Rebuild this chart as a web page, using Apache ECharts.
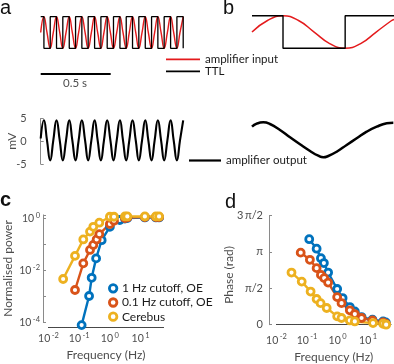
<!DOCTYPE html>
<html><head><meta charset="utf-8">
<script src="https://cdn.jsdelivr.net/npm/echarts@6/dist/echarts.min.js"></script>
<style>html,body{margin:0;padding:0;background:#fff}#c{width:394px;height:364px}</style>
</head><body><div id="c"></div>
<script>
// ---------- data ----------
// panel a: quarter-period key points (ms) of the ~11 Hz test sine
const aTimes = [0,23,45,68,90,113,136,158,181,204,226,249,271,294,317,339,362,385,407,430,452,475,498,520,543,566,588,611,633,656,679,701,724,747,769,792,814,837,860,882,905,928,950,973,995,1018];
const aInput = [0,1,0,-1,0,1,0,-1,0,1,0,-1,0,1,0,-1,0,1,0,-1,0,1,0,-1,0,1,0,-1,0,1,0,-1,0,1,0,-1,0,1,0,-1,0,1,0,-1,0,1];
const aOutput = [0.6,4.6,0.2,-4.2,0.2,4.6,0.2,-4.2,0.2,4.6,0.2,-4.2,0.2,4.6,0.2,-4.2,0.2,4.6,0.2,-4.2,0.2,4.6,0.2,-4.2,0.2,4.6,0.2,-4.2,0.2,4.6,0.2,-4.2,0.2,4.6,0.2,-4.2,0.2,4.6,0.2,-4.2,0.2,4.6,0.2,-4.2,0.2,4.6];
const aTTLTimes = [0,23,68,113,158,204,249,294,339,385,430,475,520,566,611,656,701,747,792,837,882,928,973,1018];
const aTTLLevels = [1,-1,1,-1,1,-1,1,-1,1,-1,1,-1,1,-1,1,-1,1,-1,1,-1,1,-1,1,-1];
const scaleBarTimes = [0,500];
// panel b: one cycle, zoomed (ms)
const bTimes = [0,11.3,22.6,33.9,45.3,56.6,67.9,79.2,90.5,101.8,103.5];
const bInput = [0,0.71,1,0.71,0,-0.71,-1,-0.71,0,0.71,0.78];
const bTTLTimes = [0,22.6,67.9,103.5];
const bTTLLevels = [1,-1,1,1];
const bOutTimes = [0,3.4,8.2,13.1,20.4,27.7,35.0,42.3,48.3,52.0,55.6,61.7,69.0,76.3,83.6,90.9,98.2,103.0];
const bOutput = [3.2,3.86,4.16,3.79,2.47,0.87,-0.67,-2.14,-3.18,-3.53,-3.24,-2.30,-0.82,0.65,2.10,3.2,3.95,4.08];
// panel c: normalised power vs frequency (Hz)
const c1HzFreq = [0.12,0.21,0.255,0.356,0.54,1.0,2.1,3.1,3.7,13.8,31.6,40];
const c1HzPow  = [7.6e-5,0.001,0.005,0.028,0.14,0.46,0.84,0.95,1.0,1.05,1.05,1.05];
const c01HzFreq = [0.073,0.136,0.225,0.288,0.37,0.452,1.0,1.36,3.1,3.7,13.8,31.6,40];
const c01HzPow  = [0.0017,0.018,0.059,0.092,0.15,0.24,0.59,0.79,1.0,1.05,1.08,1.08,1.08];
const cCerFreq = [0.030,0.073,0.136,0.225,0.288,0.452,1.0,1.36,3.1,3.7,13.8,31.6,40];
const cCerPow  = [0.0045,0.035,0.15,0.30,0.46,0.66,1.12,1.12,1.15,1.15,1.15,1.15,1.15];
// panel d: phase (rad) vs frequency (Hz)
const d1HzFreq = [0.118,0.206,0.285,0.356,0.49,0.97,1.46,2.52,3.67,6.1,13.9,31,38];
const d1HzPhase = [3.69,3.28,2.87,2.66,2.25,1.54,1.15,0.76,0.57,0.33,0.215,0.14,0.10];
const d01HzFreq = [0.062,0.124,0.206,0.285,0.364,0.49,0.97,1.35,2.52,3.67,6.1,13.9,31,38];
const d01HzPhase = [3.11,2.80,2.44,2.15,2.01,1.82,1.19,0.93,0.62,0.46,0.29,0.185,0.10,0.04];
const dCerFreq = [0.031,0.067,0.131,0.206,0.278,0.44,0.97,1.35,2.52,3.67,14.5,31,39];
const dCerPhase = [2.25,1.86,1.43,1.11,0.93,0.72,0.36,0.29,0.185,0.14,0.07,0.04,0.0];
const phaseTickLabels = ['0','\u03c0/2','\u03c0','3\u2009\u03c0/2'];

// ---------- styling ----------
const FONT = 'Lato';
const GREY = '#4d4d4d';
const AXC = '#8a8a8a';
const RED = '#e41a1c';
const BLUE = '#0072BD', ORANGE = '#D95319', YELLOW = '#EDB120';
const zip = (xs, ys) => xs.map((x, i) => [x, ys[i]]);

const supRich = {
  b: {fontSize: 10.5, color: GREY, fontFamily: FONT, verticalAlign: 'bottom', lineHeight: 13},
  s: {fontSize: 7.5, color: GREY, fontFamily: FONT, verticalAlign: 'top', lineHeight: 8, padding: [0,0,0,1.5]}
};
const isDecade = v => Math.abs(Math.log10(v) - Math.round(Math.log10(v))) < 0.01;
const sup = v => isDecade(v) ? '{b|10}{s|' + Math.round(Math.log10(v)) + '}' : '';

function logX(grid, offset) {
  return {
    gridIndex: grid, type: 'log', min: 0.01, max: Math.pow(10, 1.75), offset: offset,
    axisLine: {show: true, lineStyle: {color: '#333', width: 1, type: [1, 1]}},
    axisTick: {show: false}, splitLine: {show: false}, minorTick: {show: false},
    axisLabel: {formatter: sup, rich: supRich, margin: 4},
    name: 'Frequency (Hz)', nameLocation: 'middle', nameGap: 22,
    nameTextStyle: {fontFamily: FONT, fontSize: 12, color: GREY}
  };
}
function markerSeries(name, color, data, xi, yi) {
  return {
    name: name, type: 'line', xAxisIndex: xi, yAxisIndex: yi, data: data, clip: false,
    symbol: 'circle', symbolSize: 7, color: color,
    lineStyle: {color: color, width: 2.4},
    itemStyle: {color: '#fff', borderColor: color, borderWidth: 2.8}
  };
}
function traceSeries(name, color, width, data, xi, yi, extra) {
  return Object.assign({
    name: name, type: 'line', xAxisIndex: xi, yAxisIndex: yi, data: data, clip: false,
    symbol: 'none', color: color, lineStyle: {color: color, width: width}, silent: true
  }, extra || {});
}
const hidden = (g, min, max) => ({gridIndex: g, type: 'value', min: min, max: max, show: false});

const option = {
  animation: false,
  backgroundColor: '#fff',
  grid: [
    {left: 40.7, top: 16.7, width: 142.5, height: 31.6},
    {left: 40.7, top: 118.5, width: 142.5, height: 45.5},
    {left: 252, top: 15.8, width: 142, height: 32.5},
    {left: 252, top: 118.5, width: 142, height: 45.5},
    {left: 48.5, top: 214.9, width: 115.1, height: 107.1},
    {left: 276.5, top: 215.5, width: 114.75, height: 109.5}
  ],
  xAxis: [
    hidden(0, 0, 1018), hidden(1, 0, 1018), hidden(2, 0, 103.5), hidden(3, 0, 103.5),
    logX(4, 5.5), logX(5, 4.3)
  ],
  yAxis: [
    hidden(0, -1, 1),
    {gridIndex: 1, type: 'value', min: -5, max: 5, interval: 5, offset: 7,
     axisLine: {show: true, lineStyle: {color: AXC, width: 1}},
     axisTick: {show: true, inside: true, length: 3, lineStyle: {color: AXC}},
     splitLine: {show: false},
     axisLabel: {fontFamily: FONT, fontSize: 11, color: GREY, margin: 7},
     name: 'mV', nameLocation: 'middle', nameGap: 16, nameRotate: 90, nameMoveOverlap: false,
     nameTextStyle: {fontFamily: FONT, fontSize: 12, color: GREY}},
    hidden(2, -1, 1), hidden(3, -5, 5),
    {gridIndex: 4, type: 'log', min: 1e-4, max: Math.pow(10, 0.12), offset: 5.5,
     axisLine: {show: true, lineStyle: {color: AXC, width: 1}},
     axisTick: {show: true, inside: true, length: 3, lineStyle: {color: AXC}},
     splitLine: {show: false}, minorTick: {show: false},
     axisLabel: {formatter: v => (isDecade(v) && Math.round(Math.log10(v)) % 2 === 0 ? sup(v) : ''), rich: supRich, margin: 3},
     name: 'Normalised power', nameLocation: 'middle', nameGap: 29, nameRotate: 90,
     nameTextStyle: {fontFamily: FONT, fontSize: 12, color: GREY}},
    {gridIndex: 5, type: 'value', min: 0, max: 3 * Math.PI / 2, interval: Math.PI / 2, offset: 7.5,
     axisLine: {show: true, lineStyle: {color: AXC, width: 1}},
     axisTick: {show: true, inside: true, length: 3, lineStyle: {color: AXC}},
     splitLine: {show: false},
     axisLabel: {fontFamily: FONT, fontSize: 11, color: GREY, margin: 6,
       formatter: v => phaseTickLabels[Math.round(v / (Math.PI / 2))]}}
  ],
  legend: [
    {data: ['amplifier input', 'TTL'], orient: 'vertical', left: 166, top: 53.4, padding: 0,
     icon: 'rect', itemWidth: 34, itemHeight: 1.6, itemGap: 0, selectedMode: false,
     textStyle: {fontFamily: FONT, fontSize: 11.5, color: '#1a1a1a', lineHeight: 11.7}},
    {data: ['amplifier output'], orient: 'vertical', left: 189, top: 154.5, padding: 0,
     icon: 'rect', itemWidth: 32, itemHeight: 2.2, itemGap: 0, selectedMode: false,
     textStyle: {fontFamily: FONT, fontSize: 11.5, color: '#1a1a1a', lineHeight: 12}},
    {data: ['1 Hz cutoff, OE', '0.1 Hz cutoff, OE', 'Cerebus'], orient: 'vertical', left: 108, top: 281.2, padding: 0,
     icon: 'circle', itemWidth: 7.5, itemHeight: 7.5, itemGap: 0, selectedMode: false,
     itemStyle: {color: '#fff', borderWidth: 2.8},
     textStyle: {fontFamily: FONT, fontSize: 12, color: '#1a1a1a', lineHeight: 14.2}}
  ],
  series: [
    traceSeries('amplifier input', RED, 1.4, zip(aTimes, aInput), 0, 0, {smooth: 0.5}),
    traceSeries('TTL', '#000', 1.3, zip(aTTLTimes, aTTLLevels), 0, 0, {step: 'end'}),
    traceSeries('scale bar', '#000', 2, zip(scaleBarTimes, [-2.63, -2.63]), 0, 0),
    traceSeries('amplifier output', '#000', 2.1, zip(aTimes, aOutput), 1, 1, {smooth: 0.5}),
    traceSeries('amplifier input', RED, 1.5, zip(bTimes, bInput), 2, 2, {smooth: 0.5}),
    traceSeries('TTL', '#000', 1.4, zip(bTTLTimes, bTTLLevels), 2, 2, {step: 'end'}),
    traceSeries('amplifier output', '#000', 2.5, zip(bOutTimes, bOutput), 3, 3, {smooth: 0.5}),
    markerSeries('1 Hz cutoff, OE', BLUE, zip(c1HzFreq, c1HzPow), 4, 4),
    markerSeries('0.1 Hz cutoff, OE', ORANGE, zip(c01HzFreq, c01HzPow), 4, 4),
    markerSeries('Cerebus', YELLOW, zip(cCerFreq, cCerPow), 4, 4),
    markerSeries('1 Hz cutoff, OE', BLUE, zip(d1HzFreq, d1HzPhase), 5, 5),
    markerSeries('0.1 Hz cutoff, OE', ORANGE, zip(d01HzFreq, d01HzPhase), 5, 5),
    markerSeries('Cerebus', YELLOW, zip(dCerFreq, dCerPhase), 5, 5)
  ],
  graphic: [
    {type: 'text', x: 0, y: 8.6, style: {text: 'a', font: '20px "Liberation Sans"', fill: '#111', align: 'left', verticalAlign: 'middle'}},
    {type: 'text', x: 223, y: 8.6, style: {text: 'b', font: '20px "Liberation Sans"', fill: '#111', align: 'left', verticalAlign: 'middle'}},
    {type: 'text', x: 0, y: 200.3, style: {text: 'c', font: 'bold 20px "Liberation Sans"', fill: '#111', align: 'left', verticalAlign: 'middle'}},
    {type: 'text', x: 225, y: 202, style: {text: 'd', font: '20px "Liberation Sans"', fill: '#111', align: 'left', verticalAlign: 'middle'}},
    {type: 'text', x: 75, y: 83.3, style: {text: '0.5 s', font: '11.5px ' + FONT, fill: GREY, align: 'center', verticalAlign: 'middle'}},
    {type: 'text', x: 229, y: 275, rotation: Math.PI / 2, style: {text: 'Phase (rad)', font: '12px ' + FONT, fill: GREY, align: 'center', verticalAlign: 'middle'}}
  ]
};
const chart = echarts.init(document.getElementById('c'), null, {renderer: 'canvas'});
chart.setOption(option);
</script></body></html>
